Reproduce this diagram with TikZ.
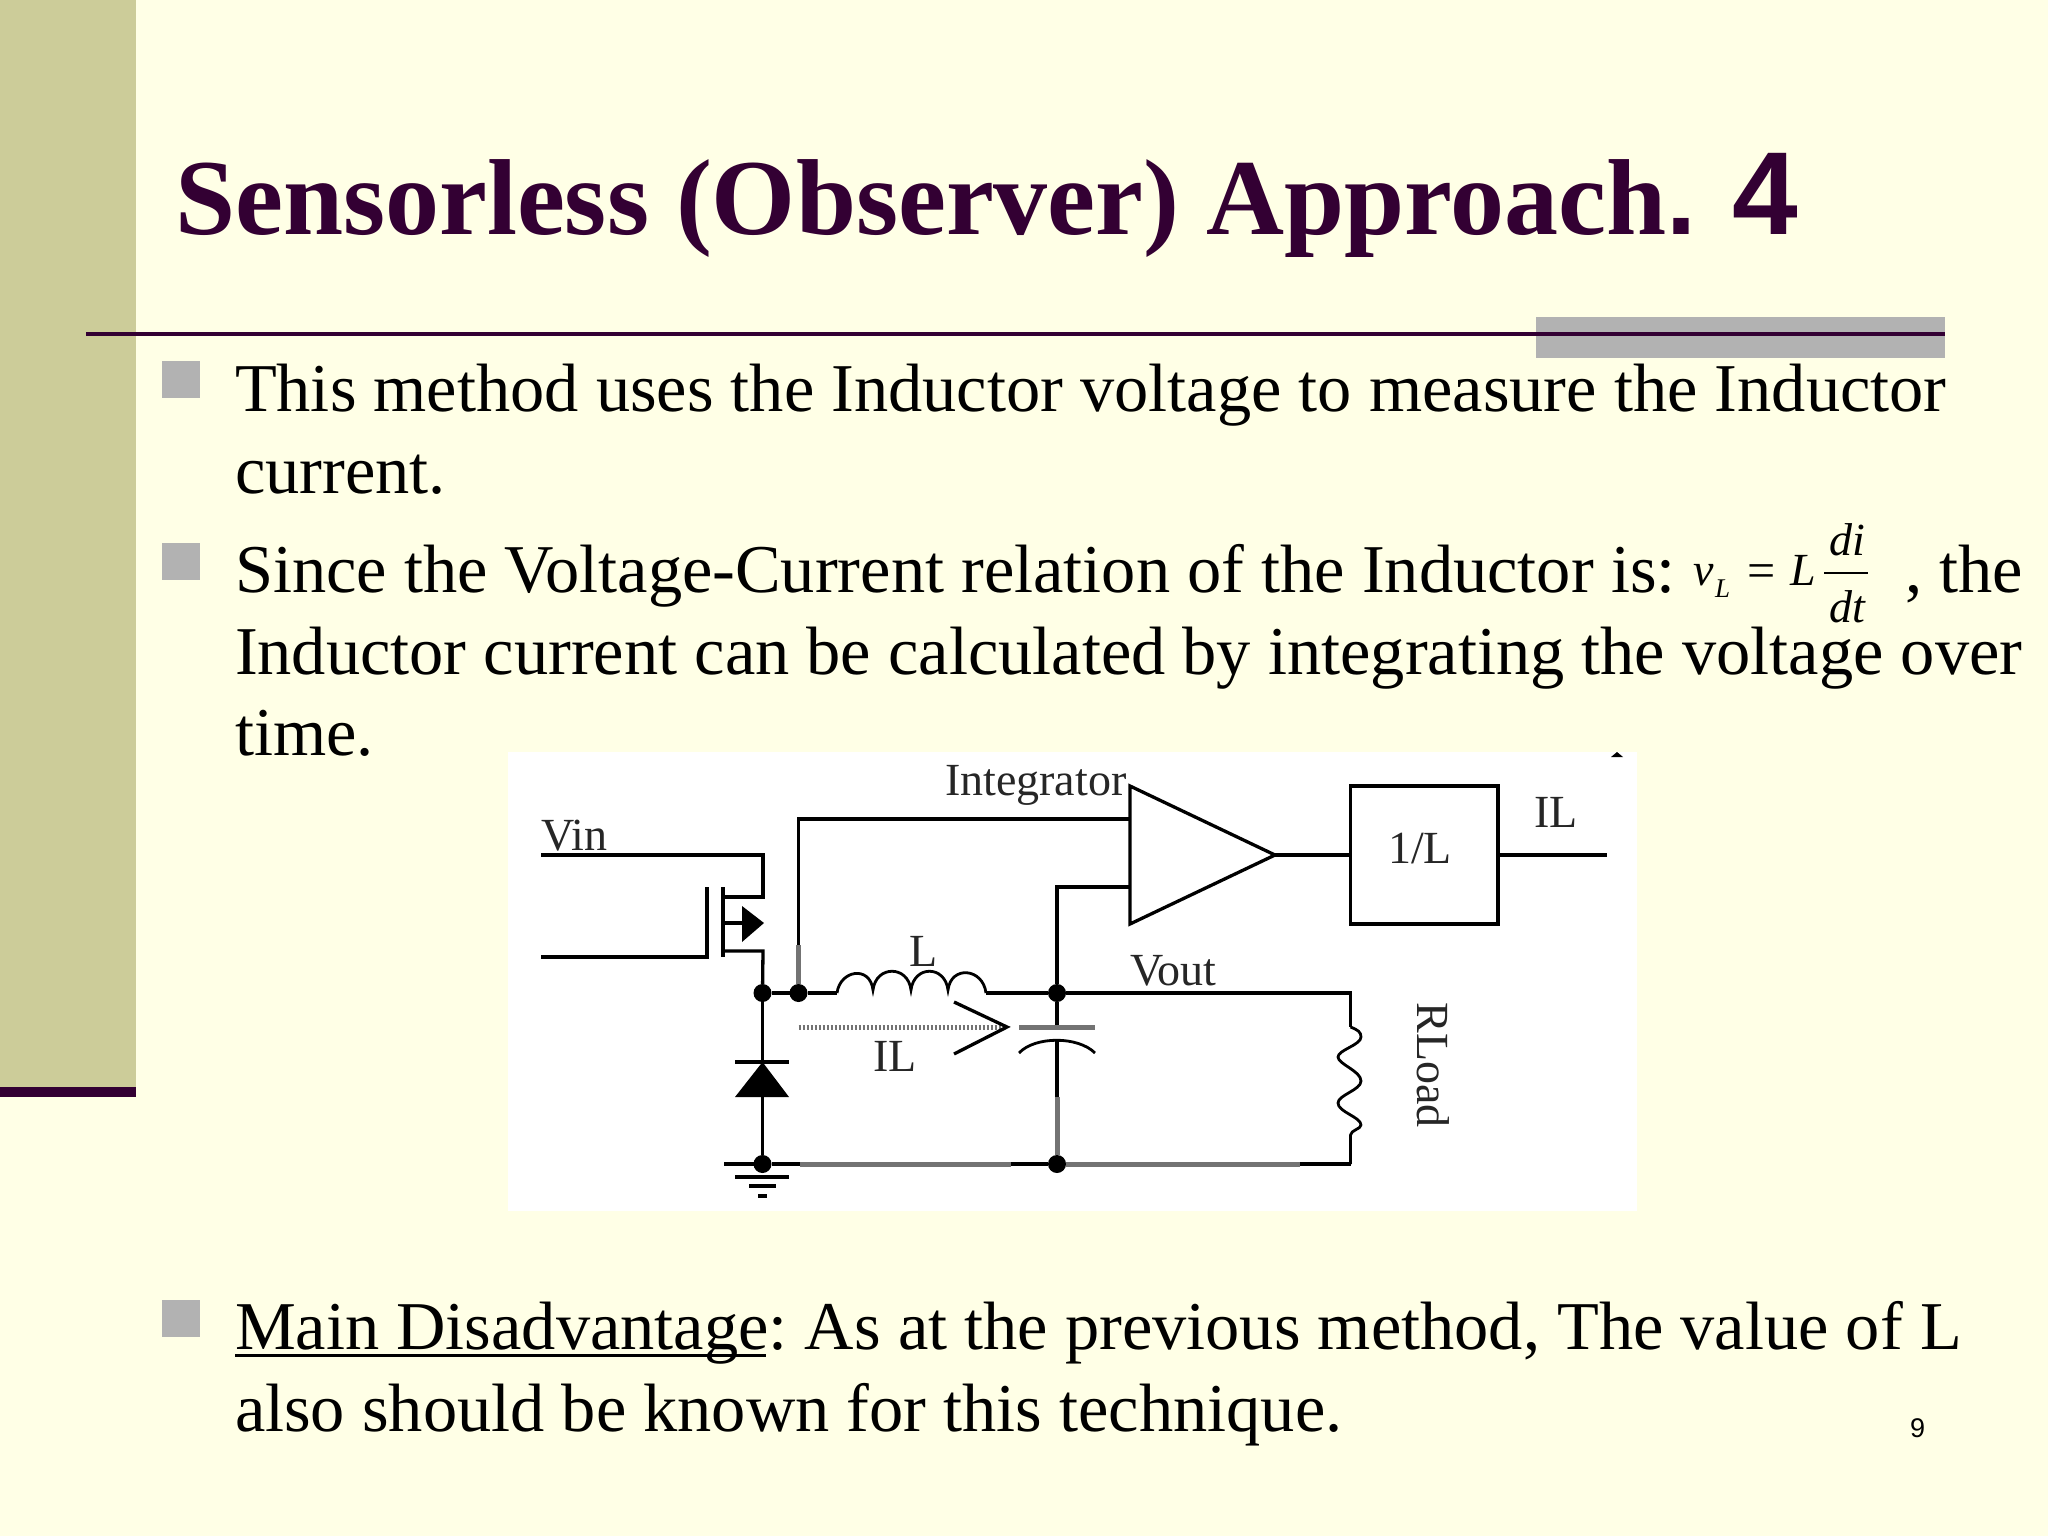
\documentclass[tikz,border=0pt]{standalone}
\usepackage{fontspec}
\setmainfont{Liberation Serif}
\newfontfamily\arialf{Liberation Sans}
\frenchspacing
\definecolor{slidebg}{HTML}{FFFFE6}
\definecolor{sidebar}{HTML}{CCCC99}
\definecolor{plum}{HTML}{330033}
\definecolor{bulletgrey}{HTML}{B2B2B2}
\tikzset{
  bodyline/.style={anchor=base west,inner sep=0pt,outer sep=0pt,font=\fontsize{68.4}{82}\selectfont},
  eqn/.style={anchor=base west,inner sep=0pt,outer sep=0pt,font=\fontsize{46}{50}\selectfont\itshape},
  eqnup/.style={anchor=base west,inner sep=0pt,outer sep=0pt,font=\fontsize{50}{50}\selectfont},
  eqnsub/.style={anchor=base west,inner sep=0pt,outer sep=0pt,font=\fontsize{27}{30}\selectfont\itshape},
  bulletbox/.style={fill=bulletgrey,draw=none,minimum width=38pt,minimum height=37pt,inner sep=0pt,outer sep=0pt,anchor=north west},
  wire/.style={line width=3.3pt,black,line join=miter},
  greywire/.style={line width=5pt,black!55},
  thinwire/.style={line width=2.8pt,black},
  dotnode/.style={circle,fill=black,inner sep=0pt,minimum size=18pt,outer sep=0pt},
  circlabel/.style={inner sep=0pt,outer sep=0pt,font=\fontsize{46}{50}\selectfont,text=black!85},
  blocksq/.style={draw=black,line width=3.3pt,fill=white,minimum width=147.5pt,minimum height=138pt,inner sep=0pt,outer sep=0pt,anchor=north west},
}
\begin{document}
\begin{tikzpicture}[x=1pt,y=-1pt]
\useasboundingbox (0,0) rectangle (2048,1536);
\fill[slidebg] (0,0) rectangle (2048,1536);
% sidebar
\fill[sidebar] (0,0) rectangle (136,1087);
\fill[plum] (0,1087) rectangle (136,1097);
% title rule
\fill[bulletgrey] (1536,317) rectangle (1945,358);
\draw[plum,line width=4pt] (86,334) -- (1945,334);
% title
\node[anchor=base west,inner sep=0pt,outer sep=0pt,text=plum,font=\fontsize{108}{118}\selectfont\bfseries] (title) at (175,234)
  {Sensorless (Observer) Approach{\arialf.\hspace{36pt}\fontsize{118}{120}\selectfont 4}};
% bullets
\node[bulletbox] (b1) at (162,361) {};
\node[bulletbox] (b2) at (162,543) {};
\node[bulletbox] (b3) at (162,1300) {};
% body
\node[bodyline] (l1) at (235,411.5) {This method uses the Inductor voltage to measure the Inductor};
\node[bodyline] (l2) at (235,493) {current.};
\node[bodyline] (l3) at (235,592) {Since the Voltage-Current relation of the Inductor is:};
\node[eqn] (v) at (1693,585) {v};
\node[eqnsub] (vs) at (1715,597) {L};
\node[eqnup] (eq) at (1747,587) {=};
\node[eqn] (ll) at (1790,585) {L};
\node[eqn] (di) at (1829,555) {di};
\node[eqn] (dt) at (1829,622) {dt};
\draw[black,line width=2pt] (1824,573) -- (1868,573);
\node[bodyline] (l3b) at (1905,592) {, the};
\node[bodyline] (l4) at (235,674.5) {Inductor current can be calculated by integrating the voltage over};
\node[bodyline] (l5) at (235,755.5) {time.};
\node[bodyline] (l6) at (235,1349.5) {Main Disadvantage: As at the previous method, The value of L};
\draw[black,line width=3pt] (235,1355) -- (766,1355);
\node[bodyline] (l7) at (235,1431.5) {also should be known for this technique.};
\node[anchor=base west,inner sep=0pt,outer sep=0pt,font=\arialf\fontsize{27}{30}\selectfont] (pg) at (1910,1437) {9};
% circuit panel
\fill[white] (508,752) rectangle (1637,1211);
\fill[black] (1611,757) -- (1623,757) -- (1617,752) -- cycle;
% named points
\coordinate (vinL) at (541,855);
\coordinate (vinR) at (763,855);
\coordinate (dr) at (763,897);
\coordinate (drC) at (723,897);
\coordinate (gateL) at (541,957);
\coordinate (gateR) at (707,957);
\coordinate (gateT) at (707,887);
\coordinate (chT) at (723,887);
\coordinate (chB) at (723,957);
\coordinate (srC) at (723,951);
\coordinate (sr) at (763,951);
\coordinate (midC) at (723,923);
\coordinate (midT) at (742,923);
\coordinate (outEnd) at (1607,855);
\coordinate (sense) at (798.5,819);
\coordinate (vfb) at (1057,887);
\coordinate (indL) at (837,993);
\coordinate (indR) at (986,993);
\coordinate (rTop) at (1350.5,993);
\coordinate (rBot) at (1350.5,1164);
\coordinate (gndL) at (724,1164);
\node[dotnode] (n1) at (762.5,993) {};
\node[dotnode] (n2) at (798.5,993) {};
\node[dotnode] (n3) at (1057,993) {};
\node[dotnode] (n4) at (762.5,1164) {};
\node[dotnode] (n5) at (1057,1164) {};
% amp and block
\node[blocksq] (gain) at (1350.5,786) {};
\coordinate (ampT) at (1130,786);
\coordinate (ampB) at (1130,924);
\coordinate (ampTip) at (1275,855);
\draw[wire,line join=miter] (ampT) -- (ampTip) -- (ampB) -- cycle;
\node[circlabel] (gl) at (1420,849) {1/L};
% wires
\draw[wire] (vinL) -- (vinR) -- (dr) -- (drC);
\draw[wire] (gateL) -- (gateR) -- (gateT);
\draw[wire] (chT) -- (chB);
\draw[wire] (srC) -- (sr) -- (n1);
\draw[wire] (midC) -- (midT);
\fill[black] (742,906) -- (764,923) -- (742,942) -- cycle;
\draw[wire] (ampTip) -- (gain.west);
\draw[wire] (gain.east) -- (outEnd);
\draw[wire] (n2) -- (sense) -- (sense -| ampT);
\draw[greywire] (798.5,945) -- (n2);
\draw[wire] (n3) -- (vfb) -- (vfb -| ampT);
\draw[wire] (n1) -- (n2) -- (indL);
\draw[wire] (indR) -- (n3) -- (rTop) -- (1350.5,1027);
% inductor
\draw[thinwire] (indL) .. controls (840,970) and (870,965) .. (873,990)
  .. controls (876,965) and (908,965) .. (911,990)
  .. controls (914,965) and (945,965) .. (948,990)
  .. controls (951,965) and (983,968) .. (indR);
% resistor
\draw[thinwire,line join=round] (1350.5,1027) .. controls (1358,1030) and (1361,1032) .. (1361,1037)
  .. controls (1361,1045) and (1338,1050) .. (1338,1057)
  .. controls (1338,1064) and (1361,1071) .. (1361,1081)
  .. controls (1361,1090) and (1338,1095) .. (1338,1103)
  .. controls (1338,1112) and (1361,1117) .. (1361,1125)
  .. controls (1361,1129) and (1351,1130) .. (1350.5,1135) -- (rBot);
% diode branch
\draw[wire] (n1) -- (n4);
\fill[black] (762.5,1062) -- (789,1097) -- (735,1097) -- cycle;
\draw[wire] (735,1062) -- (789,1062);
% capacitor
\draw[wire] (n3) -- (1057,1027);
\draw[wire] (1057,1040) -- (1057,1097);
\draw[greywire] (1057,1097) -- (n5);
\draw[greywire] (1019,1027) -- (1095,1027);
\draw[thinwire] (1019,1053) .. controls (1035,1036) and (1078,1036) .. (1095,1053);
% ground rail
\draw[wire] (gndL) -- (n4) -- (800,1164);
\draw[greywire] (800,1164) -- (1011,1164);
\draw[wire] (1011,1164) -- (n5);
\draw[greywire] (n5) -- (1300,1164);
\draw[wire] (1300,1164) -- (rBot);
\draw[wire] (735,1177) -- (789,1177);
\draw[wire] (749,1186) -- (776,1186);
\draw[wire] (758,1196) -- (767,1196);
% current arrow
\draw[black!55,line width=5pt,dash pattern=on 2.5pt off 1.5pt] (798.5,1027) -- (1005,1027);
\draw[wire,line join=miter] (954,1002) -- (1007,1027) -- (954,1054);
% circuit labels
\node[circlabel,anchor=base west] (lab1) at (541,850) {Vin};
\node[circlabel,anchor=base west] (lab2) at (945,795) {Integrator};
\node[circlabel,anchor=base west] (lab3) at (909,966) {L};
\node[circlabel,anchor=base west] (lab4) at (873,1071) {IL};
\node[circlabel,anchor=base west] (lab5) at (1534,827) {IL};
\node[circlabel,anchor=base west] (lab6) at (1130,985) {Vout};
\node[circlabel,rotate=-90] (lab7) at (1433,1065) {RLoad};
\end{tikzpicture}
\end{document}
